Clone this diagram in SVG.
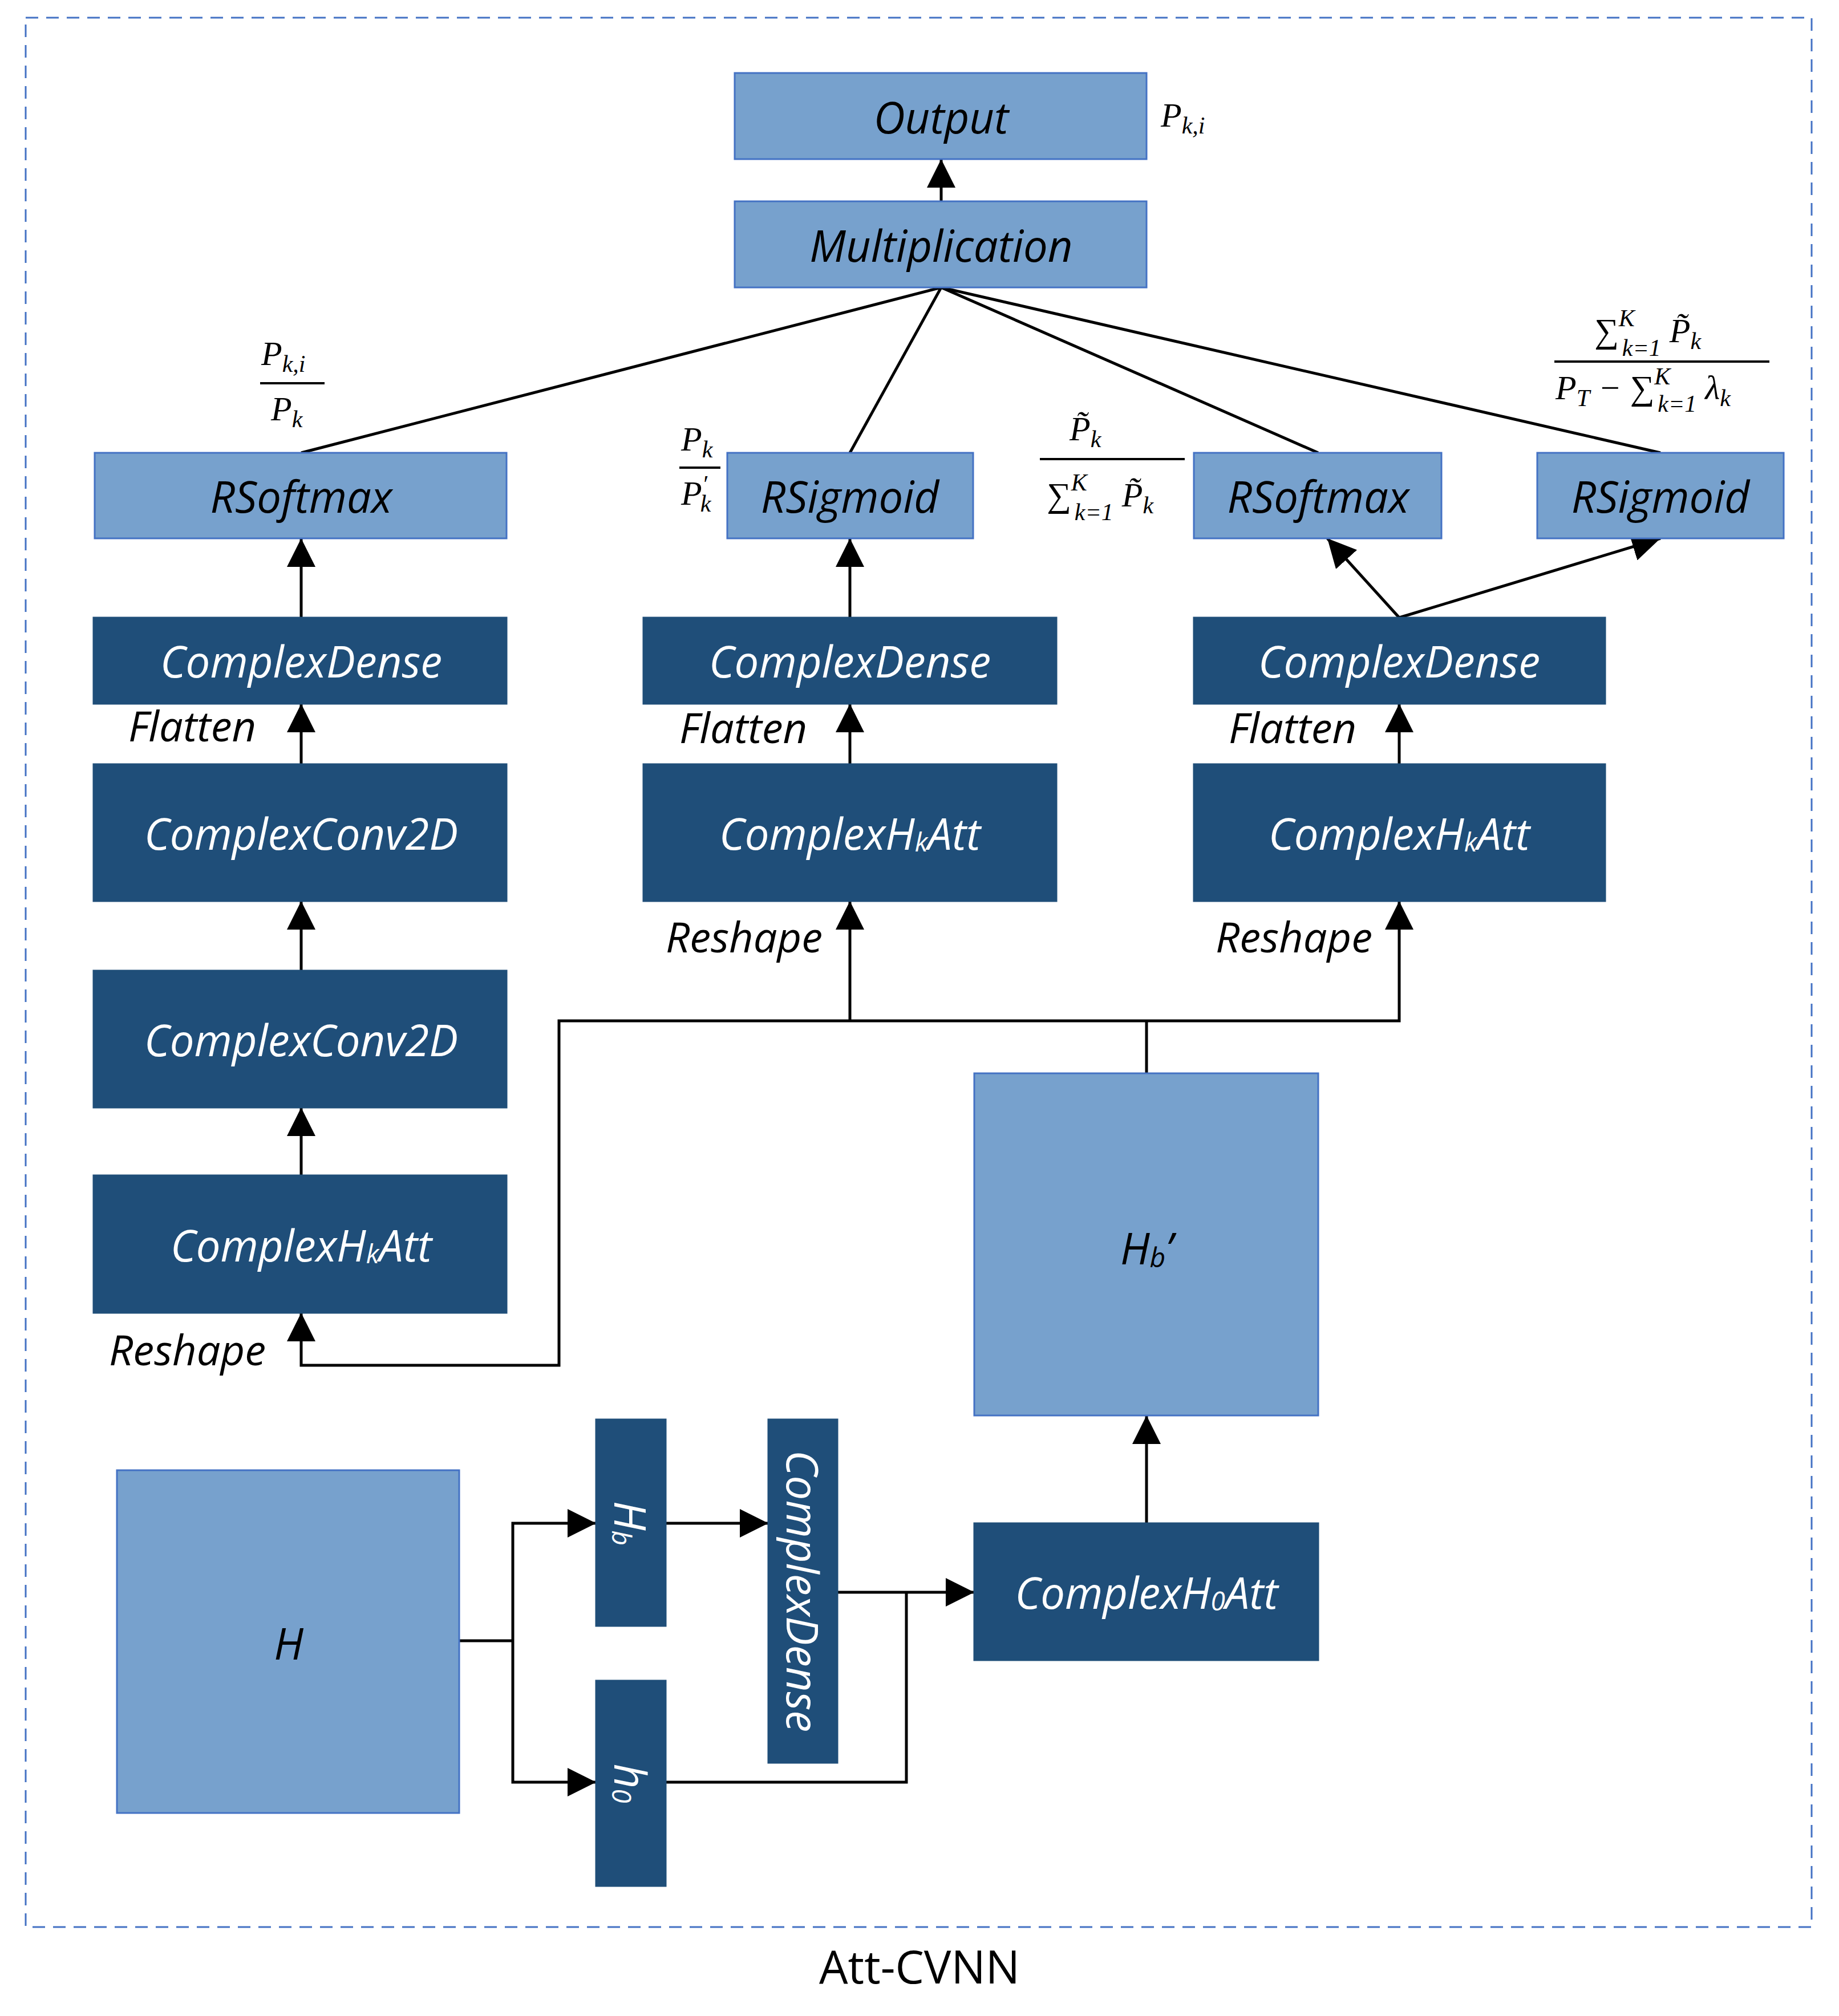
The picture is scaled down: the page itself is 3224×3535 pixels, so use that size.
<svg xmlns="http://www.w3.org/2000/svg" width="3224" height="3535" viewBox="0 0 3224 3535">
<style>
.l{fill:#77A1CD;stroke:#4472C4;stroke-width:3}
.d{fill:#1F4E79;stroke:#1F4E79;stroke-width:3}
.t{font-family:"Open Sans",sans-serif;font-style:italic;font-size:76px;text-anchor:middle;dominant-baseline:central}
.tw{fill:#fff}
.tb{fill:#000}
.lab{font-family:"Open Sans",sans-serif;font-style:italic;font-size:74px;fill:#000}
.m{font-family:"Liberation Serif",serif;font-style:italic;font-size:60px;fill:#000}
.s{font-size:42px}
.c{fill:none;stroke:#000;stroke-width:5}
</style>
<defs>
<marker id="b" viewBox="0 0 10 10" refX="10" refY="5" markerWidth="10" markerHeight="10" orient="auto">
<path d="M0,0 L10,5 L0,10 z" fill="#000"/>
</marker>
</defs>
<rect x="45" y="31" width="3131" height="3348" fill="none" stroke="#4472C4" stroke-width="3" stroke-dasharray="22,14"/>
<text x="1612" y="3446" font-family="'Open Sans',sans-serif" font-size="80" text-anchor="middle" dominant-baseline="central">Att-CVNN</text>

<g id="connectors">
<line class="c" x1="1650" y1="353" x2="1650" y2="279" marker-end="url(#b)"/>
<line class="c" x1="1650" y1="504" x2="528" y2="794"/>
<line class="c" x1="1650" y1="504" x2="1490" y2="794"/>
<line class="c" x1="1650" y1="504" x2="2311" y2="794"/>
<line class="c" x1="1650" y1="504" x2="2911" y2="794"/>
<line class="c" x1="528" y1="1083" x2="528" y2="944" marker-end="url(#b)"/>
<line class="c" x1="528" y1="1340" x2="528" y2="1234" marker-end="url(#b)"/>
<line class="c" x1="528" y1="1702" x2="528" y2="1580" marker-end="url(#b)"/>
<line class="c" x1="528" y1="2061" x2="528" y2="1942" marker-end="url(#b)"/>
<line class="c" x1="1490" y1="1083" x2="1490" y2="944" marker-end="url(#b)"/>
<line class="c" x1="1490" y1="1340" x2="1490" y2="1234" marker-end="url(#b)"/>
<line class="c" x1="2453" y1="1340" x2="2453" y2="1234" marker-end="url(#b)"/>
<line class="c" x1="2453" y1="1083" x2="2327" y2="944" marker-end="url(#b)"/>
<line class="c" x1="2453" y1="1083" x2="2911" y2="944" marker-end="url(#b)"/>
<polyline class="c" points="2010,1882 2010,1790"/>
<polyline class="c" points="1490,1790 2453,1790 2453,1580" marker-end="url(#b)"/>
<polyline class="c" points="1490,1790 1490,1580" marker-end="url(#b)"/>
<polyline class="c" points="1490,1790 980,1790 980,2394 528,2394 528,2302" marker-end="url(#b)"/>
<line class="c" x1="2010" y1="2671" x2="2010" y2="2482" marker-end="url(#b)"/>
<polyline class="c" points="805,2877 899,2877"/>
<polyline class="c" points="899,2877 899,2671 1045,2671" marker-end="url(#b)"/>
<polyline class="c" points="899,2877 899,3125 1045,3125" marker-end="url(#b)"/>
<line class="c" x1="1167" y1="2671" x2="1347" y2="2671" marker-end="url(#b)"/>
<line class="c" x1="1468" y1="2792" x2="1708" y2="2792" marker-end="url(#b)"/>
<polyline class="c" points="1167,3125 1589,3125 1589,2792"/>
</g>

<g id="output"><rect class="l" x="1288" y="128" width="722" height="151"/><text class="t tb" x="1650" y="204">Output</text></g>
<g id="multiplication"><rect class="l" x="1288" y="353" width="722" height="151"/><text class="t tb" x="1650" y="429">Multiplication</text></g>
<g id="rsoftmax1"><rect class="l" x="166" y="794" width="722" height="150"/><text class="t tb" x="528" y="869">RSoftmax</text></g>
<g id="rsigmoid1"><rect class="l" x="1275" y="794" width="431" height="150"/><text class="t tb" x="1490" y="869">RSigmoid</text></g>
<g id="rsoftmax2"><rect class="l" x="2093" y="794" width="434" height="150"/><text class="t tb" x="2311" y="869">RSoftmax</text></g>
<g id="rsigmoid2"><rect class="l" x="2695" y="794" width="432" height="150"/><text class="t tb" x="2911" y="869">RSigmoid</text></g>

<g id="dense1"><rect class="d" x="164" y="1083" width="724" height="151"/><text class="t tw" x="528" y="1158">ComplexDense</text></g>
<g id="dense2"><rect class="d" x="1128" y="1083" width="724" height="151"/><text class="t tw" x="1490" y="1158">ComplexDense</text></g>
<g id="dense3"><rect class="d" x="2093" y="1083" width="721" height="151"/><text class="t tw" x="2453" y="1158">ComplexDense</text></g>
<g id="conv2d1"><rect class="d" x="164" y="1340" width="724" height="240"/><text class="t tw" x="528" y="1460">ComplexConv2D</text></g>
<g id="hkatt2"><rect class="d" x="1128" y="1340" width="724" height="240"/><text class="t tw" x="1490" y="1460">ComplexH<tspan font-size="46" dy="15">k</tspan><tspan dy="-15">Att</tspan></text></g>
<g id="hkatt3"><rect class="d" x="2093" y="1340" width="721" height="240"/><text class="t tw" x="2453" y="1460">ComplexH<tspan font-size="46" dy="15">k</tspan><tspan dy="-15">Att</tspan></text></g>
<g id="conv2d2"><rect class="d" x="164" y="1702" width="724" height="240"/><text class="t tw" x="528" y="1822">ComplexConv2D</text></g>
<g id="hkatt1"><rect class="d" x="164" y="2061" width="724" height="241"/><text class="t tw" x="528" y="2182">ComplexH<tspan font-size="46" dy="15">k</tspan><tspan dy="-15">Att</tspan></text></g>

<g id="labels">
<text class="lab" x="225" y="1300">Flatten</text>
<text class="lab" x="1191" y="1303">Flatten</text>
<text class="lab" x="2154" y="1303">Flatten</text>
<text class="lab" x="1167" y="1670">Reshape</text>
<text class="lab" x="2131" y="1670">Reshape</text>
<text class="lab" x="191" y="2394">Reshape</text>
</g>

<g id="hbprime"><rect class="l" x="1708" y="1882" width="603" height="600"/><text class="t tb" x="2010" y="2187">H<tspan font-size="48" dy="16">b</tspan><tspan dy="-16">’</tspan></text></g>
<g id="h0att"><rect class="d" x="1708" y="2671" width="603" height="240"/><text class="t tw" x="2010" y="2791">ComplexH<tspan font-size="46" dy="15">0</tspan><tspan dy="-15">Att</tspan></text></g>
<g id="H"><rect class="l" x="205" y="2578" width="600" height="601"/><text class="t tb" x="506" y="2880">H</text></g>
<g id="Hb"><rect class="d" x="1045" y="2489" width="122" height="362"/><text class="t tw" transform="translate(1106,2671) rotate(90)" x="0" y="0">H<tspan font-size="46" dy="15">b</tspan></text></g>
<g id="h0"><rect class="d" x="1045" y="2947" width="122" height="360"/><text class="t tw" transform="translate(1106,3127) rotate(90)" x="0" y="0">h<tspan font-size="46" dy="15">0</tspan></text></g>
<g id="densev"><rect class="d" x="1347" y="2489" width="121" height="602"/><text class="t tw" transform="translate(1408,2790) rotate(90)" x="0" y="0">ComplexDense</text></g>

<g id="math">
<text class="m" x="2035" y="222">P<tspan class="s" dy="12">k,i</tspan></text>
<text class="m" x="458" y="640">P<tspan class="s" dy="12">k,i</tspan></text>
<line x1="456" y1="672" x2="569" y2="672" stroke="#000" stroke-width="4"/>
<text class="m" x="475" y="737">P<tspan class="s" dy="12">k</tspan></text>
<text class="m" x="1194" y="790">P<tspan class="s" dy="12">k</tspan></text>
<line x1="1191" y1="820" x2="1263" y2="820" stroke="#000" stroke-width="4"/>
<text class="m" x="1194" y="885">P<tspan class="s" dy="-22">′</tspan><tspan class="s" dx="-12" dy="34">k</tspan></text>
<text class="m" x="1875" y="772">P̃<tspan class="s" dy="12">k</tspan></text>
<line x1="1823" y1="805" x2="2077" y2="805" stroke="#000" stroke-width="4"/>
<text class="m" x="1835" y="888">∑<tspan class="s" dy="-28">K</tspan><tspan class="s" dx="-22" dy="52">k=1</tspan><tspan dy="-24"> P̃</tspan><tspan class="s" dy="12">k</tspan></text>
<text class="m" x="2795" y="600">∑<tspan class="s" dy="-28">K</tspan><tspan class="s" dx="-22" dy="52">k=1</tspan><tspan dy="-24"> P̃</tspan><tspan class="s" dy="12">k</tspan></text>
<line x1="2725" y1="634" x2="3102" y2="634" stroke="#000" stroke-width="4"/>
<text class="m" x="2727" y="700">P<tspan class="s" dy="12">T</tspan><tspan dy="-12"> − ∑</tspan><tspan class="s" dy="-26">K</tspan><tspan class="s" dx="-22" dy="48">k=1</tspan><tspan dy="-22"> λ</tspan><tspan class="s" dy="12">k</tspan></text>
</g>
</svg>
